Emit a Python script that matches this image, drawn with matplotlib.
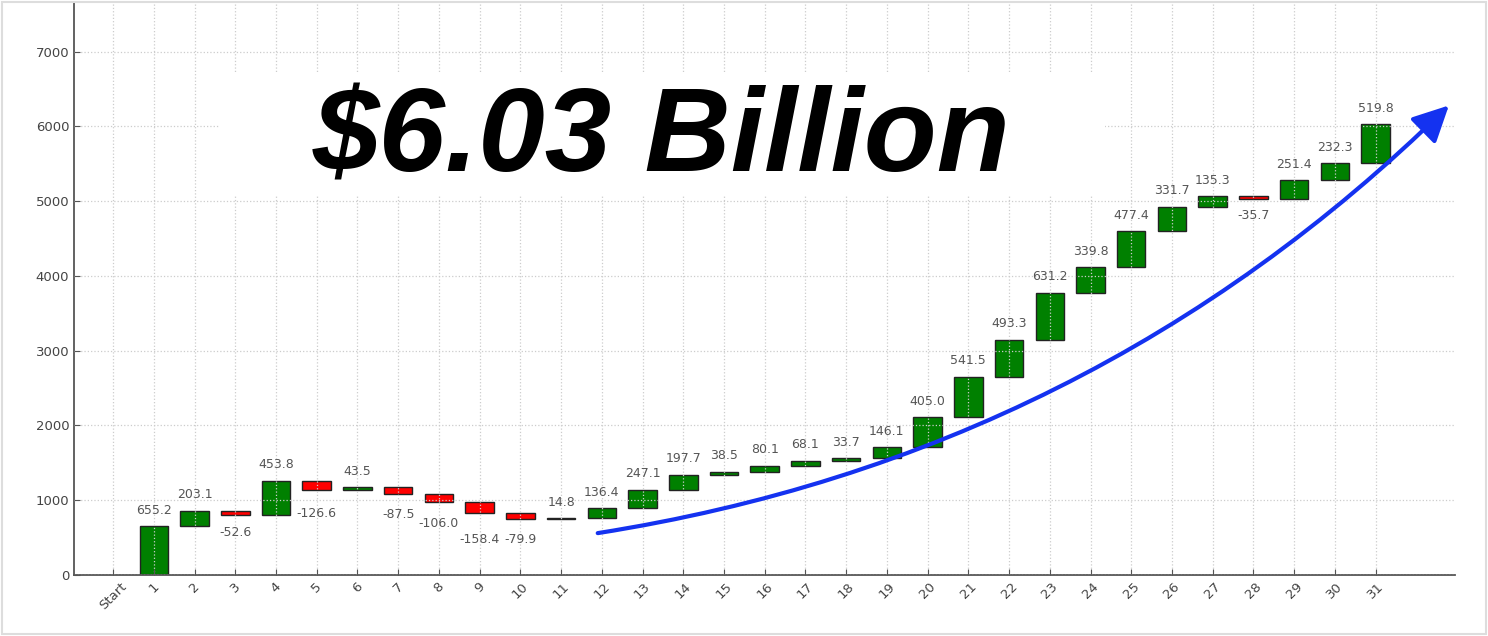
import numpy as np
import matplotlib
matplotlib.use('Agg')
from matplotlib import pyplot as plt
from matplotlib.patches import Rectangle

# monthly changes (label -> value)
labels = ['Start'] + [str(i) for i in range(1, 32)]
changes = [655.2, 203.1, -52.6, 453.8, -126.6, 43.5, -87.5, -106.0, -158.4, -79.9,
           14.8, 136.4, 247.1, 197.7, 38.5, 80.1, 68.1, 33.7, 146.1, 405.0,
           541.5, 493.3, 631.2, 339.8, 477.4, 331.7, 135.3, -35.7, 251.4, 232.3, 519.8]
headline = '$6.03 Billion'

# trend arrow ends (x index, value)
arrow_start = (11.9, 560)
arrow_end = (32.8, 6280)

vals = np.array(changes)
ends = np.cumsum(vals)
starts = ends - vals
x = np.arange(1, len(vals) + 1)

fig = plt.figure(figsize=(14.88, 6.36), dpi=100)
ax = fig.add_axes([74 / 1488, 61 / 636, 1381 / 1488, 572 / 636])

cols = ['#008000' if v >= 0 else '#ff0000' for v in vals]
ax.bar(x, vals, bottom=starts, width=0.7, color=cols, edgecolor='#222222',
       linewidth=1.0, zorder=1)

for xi, e, v in zip(x, ends, vals):
    if v >= 0:
        ax.annotate('%.1f' % v, (xi, e), xytext=(0, 11.5), textcoords='offset points',
                    ha='center', va='center', fontsize=9, color='#555555', zorder=4)
    else:
        # negative labels sit below the bar, pushed down by the size of the drop
        ax.annotate('%.1f' % v, (xi, e + v), xytext=(0, -10), textcoords='offset points',
                    ha='center', va='center', fontsize=9, color='#555555', zorder=4)

ax.set_xlim(-0.96, 32.95)
ax.set_ylim(0, 7650)
ax.set_xticks(np.arange(len(labels)))
ax.set_xticklabels(labels, rotation=45, fontsize=9.5, color='#444444')
ax.set_yticks(np.arange(0, 8000, 1000))
ax.tick_params(axis='y', labelsize=9.5, labelcolor='#444444')
ax.tick_params(direction='in', length=4, color='#555555', top=False, right=False)

ax.set_axisbelow(False)
ax.grid(True, color='#cccccc', linestyle=':', linewidth=0.9)
for sp in ['top', 'right']:
    ax.spines[sp].set_visible(False)
for sp in ['left', 'bottom']:
    ax.spines[sp].set_color('#555555')
    ax.spines[sp].set_linewidth(1.3)

# headline on a white box over the grid
ax.add_patch(Rectangle((145 / 1381, (575 - 196) / 572), 886 / 1381, 123 / 572,
                       transform=ax.transAxes, facecolor='white', edgecolor='none', zorder=3))
ax.text(588 / 1381, (575 - 172) / 572, headline, transform=ax.transAxes,
        ha='center', va='baseline', fontsize=86, fontweight='bold', fontstyle='italic',
        family='Liberation Sans', color='black', zorder=5)

# growth arrow
ax.annotate('', xy=arrow_end, xytext=arrow_start,
            arrowprops=dict(arrowstyle='-|>,head_length=1.1,head_width=0.55', color='#1432f0',
                            lw=3, mutation_scale=20, connectionstyle='arc3,rad=0.16',
                            shrinkA=0, shrinkB=0),
            zorder=4)

# thin outer frame
fig.patches.append(Rectangle((2 / 1488, 2 / 636), 1484 / 1488, 632 / 636,
                             transform=fig.transFigure, fill=False,
                             edgecolor='#dddddd', linewidth=1.5))

fig.savefig('out.png', dpi=100)
